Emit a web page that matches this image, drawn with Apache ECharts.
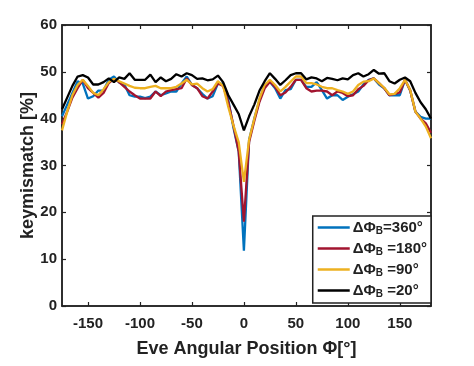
<!DOCTYPE html>
<html><head><meta charset="utf-8">
<script src="https://cdn.jsdelivr.net/npm/echarts@6/dist/echarts.min.js"></script>
<style>html,body{margin:0;padding:0;background:#fff}#c{width:474px;height:366px}</style>
</head><body><div id="c"></div>
<script>
const angles = [-175,-170,-165,-160,-155,-150,-145,-140,-135,-130,-125,-120,-115,-110,-105,-100,-95,-90,-85,-80,-75,-70,-65,-60,-55,-50,-45,-40,-35,-30,-25,-20,-15,-10,-5,0,5,10,15,20,25,30,35,40,45,50,55,60,65,70,75,80,85,90,95,100,105,110,115,120,125,130,135,140,145,150,155,160,165,170,175,180];
const d360 = [40.5,43,45.5,48,47.5,44.3,44.8,46,46,48.3,49,47.7,47.3,45,44.7,44.7,44.4,44.7,45.8,45,45.4,45.8,45.8,47.5,49,47.2,46.5,45.3,44.3,44.8,47.5,47.5,44,38,33,11.8,35.5,40,44,47.2,47.9,46.5,44.3,46.1,46.3,48.3,48.3,46.8,46.8,47.8,46.1,44.3,45,45,44,44.7,45.2,45.8,47.3,48.3,48.6,47.3,46.5,45,45,45,48.3,46,41.5,40.4,40,40];
const d180 = [38.8,41.5,44.5,46.5,48.3,46.5,45.5,44.5,45.5,47.6,48.5,47.8,46.8,45.8,45,44.3,44.3,44.3,45.8,44.8,45.8,46.1,46.3,46.5,48.6,47.2,46.5,44.8,44.3,45.8,47.5,47,43.5,38.5,33,18,35,39.5,43.6,46.5,47.9,46.8,45,45.6,46.8,48.3,48.3,46.5,45.8,46,46,45.8,45,45.8,45.5,44.8,45,46.3,47,48.2,48.6,47.6,46.5,45,45.3,45.6,48.3,46,41.5,40,39,37];
const d90 = [37.5,41.5,45,47.2,48.3,47,45.5,45,46.3,47.8,48.5,48,47.5,47,46.6,46.5,46.5,46.8,47,46.5,46.5,46.5,46.8,47.5,48.3,47.3,47.5,46.5,45.8,46.3,48,47,42.5,38.5,35,26.5,35.5,40,44.3,47.2,48.3,47.2,45.8,46.8,47.9,49,49,47.6,47.6,47.3,46.8,46.5,46.5,46.1,45.8,45.3,45.8,47.2,47.9,48,48.6,47.6,46.6,45.2,45.3,46.5,48.3,46.1,41.5,40,38.3,35.8];
const d20 = [42,44.5,47,49,49.3,48.8,47.3,47.3,47.8,48.6,47.8,48.8,48.5,49.7,48.3,48.3,48.3,49.4,47.8,48.8,48,48.5,49.5,49,49.7,49.3,48.5,48.6,48.2,48.4,49.2,47.8,45,43,41,37.5,40.5,43,46,48,49.7,48.5,47.2,48.2,49.3,49.7,49.7,48.4,48.8,48.6,48,48.7,48.5,48.2,48.6,48.4,49.3,49.7,49,49.5,50.4,49.6,49.7,48,47.5,48.3,48.8,48,45.5,43.5,42,40];
const seriesNames = ['ΔΦB=360°','ΔΦB =180°','ΔΦB =90°','ΔΦB =20°'];
const seriesColors = ['#0072BD','#A2142F','#EDB120','#000000'];
const xTicks = [-150,-100,-50,0,50,100,150];
const yTicks = [0,10,20,30,40,50,60];
const xTitle = 'Eve Angular Position Φ[°]';
const yTitle = 'keymismatch [%]';

const allData = [d360,d180,d90,d20];
const FONT = 'Liberation Sans, Arial, sans-serif';
const chart = echarts.init(document.getElementById('c'));
const grid = {left:62, top:25, right:43, bottom:60};
const labelStyle = {color:'#222', fontWeight:'bold', fontSize:15, fontFamily:FONT};
chart.setOption({
  animation:false,
  backgroundColor:'#fff',
  grid: Object.assign({show:true, borderColor:'#222', borderWidth:1.5, backgroundColor:'transparent'}, grid),
  xAxis:[{
    type:'value', min:-175, max:180, position:'bottom',
    name:xTitle, nameLocation:'middle', nameGap:34, nameMoveOverlap:false,
    nameTextStyle:{color:'#222', fontWeight:'bold', fontSize:18, fontFamily:FONT},
    axisLine:{show:true, onZero:false, lineStyle:{color:'#222', width:1.5}},
    axisTick:{show:true, inside:true, length:4, customValues:xTicks, lineStyle:{color:'#222', width:1.2}},
    axisLabel:Object.assign({customValues:xTicks, margin:10}, labelStyle),
    splitLine:{show:false}
  },{
    type:'value', min:-175, max:180, position:'top',
    axisLine:{show:true, onZero:false, lineStyle:{color:'#222', width:1.5}},
    axisTick:{show:true, inside:true, length:4, customValues:xTicks, lineStyle:{color:'#222', width:1.2}},
    axisLabel:{show:false}, splitLine:{show:false}
  }],
  yAxis:[{
    type:'value', min:0, max:60, interval:10, position:'left',
    name:yTitle, nameLocation:'middle', nameGap:25, nameRotate:90, nameMoveOverlap:false,
    nameTextStyle:{color:'#222', fontWeight:'bold', fontSize:18, fontFamily:FONT},
    axisLine:{show:true, onZero:false, lineStyle:{color:'#222', width:1.5}},
    axisTick:{show:true, inside:true, length:4, customValues:yTicks, lineStyle:{color:'#222', width:1.2}},
    axisLabel:Object.assign({margin:5, customValues:yTicks}, labelStyle),
    splitLine:{show:false}
  },{
    type:'value', min:0, max:60, interval:10, position:'right',
    axisLine:{show:true, onZero:false, lineStyle:{color:'#222', width:1.5}},
    axisTick:{show:true, inside:true, length:4, lineStyle:{color:'#222', width:1.2}},
    axisLabel:{show:false}, splitLine:{show:false}
  }],
  legend:{
    orient:'vertical', right:43, top:216,
    backgroundColor:'#fff', borderColor:'#222', borderWidth:1.5,
    padding:[4,4,4,5], itemGap:5, itemWidth:32, itemHeight:2.5, icon:'rect',
    data:seriesNames,
    formatter: n => n.replace('ΔΦB', 'ΔΦ{s|B}'),
    textStyle:{color:'#222', fontWeight:'bold', fontSize:15, fontFamily:FONT, padding:[0,0,0,-2],
      rich:{s:{fontSize:10, fontWeight:'bold', fontFamily:FONT, color:'#222', padding:[7,0,0,0]}}}
  },
  series: allData.map((arr,k)=>({
    name:seriesNames[k], type:'line', symbol:'none', xAxisIndex:0, yAxisIndex:0,
    color:seriesColors[k],
    lineStyle:{width:2.3, color:seriesColors[k]},
    z:2+k,
    data: angles.map((a,i)=>[a, arr[i]])
  }))
});
</script></body></html>
